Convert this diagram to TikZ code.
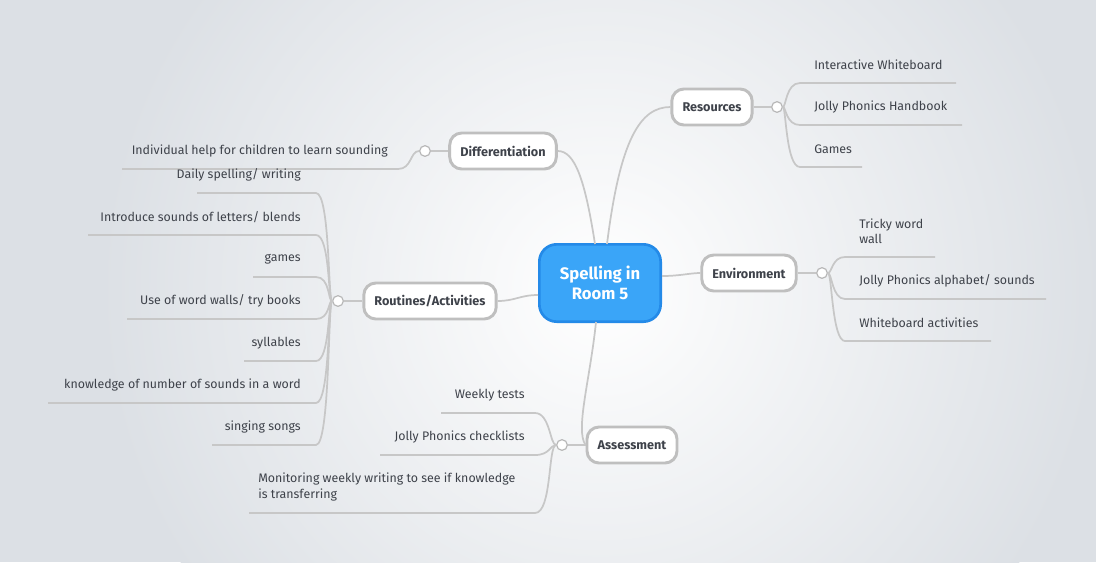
\documentclass[tikz,border=0pt]{standalone}
\usepackage{fontspec}
\setmainfont{Fira Sans}
\definecolor{bgc}{RGB}{220,224,229}
\definecolor{cfill}{RGB}{58,165,248}
\definecolor{cdraw}{RGB}{36,138,232}
\definecolor{tc}{RGB}{62,66,74}
\begin{document}
\begin{tikzpicture}[x=0.75pt,y=-0.75pt,
  conn/.style={draw=black!22,line width=1.3pt},
  branch/.style={draw=black!25,line width=2.2pt,fill=white,rounded corners=9pt,minimum height=27pt,font=\fontsize{9.5}{11}\selectfont\bfseries,text=tc,inner xsep=8pt},
  junc/.style={circle,draw=black!28,line width=0.9pt,fill=white,minimum size=8pt,inner sep=0pt},
  leaf/.style={font=\fontsize{9.3}{11.5}\selectfont,text=tc,inner sep=0pt,align=left}]
\useasboundingbox (0,0) rectangle (1096,562);
\clip (0,0) rectangle (1096,562);
\fill[bgc] (0,0) rectangle (1096,562);
\shade[inner color=white,outer color=bgc,shading=radial] (600,290) circle (500);
% central
\node[draw=cdraw,fill=cfill,line width=2pt,rounded corners=13pt,minimum width=91pt,minimum height=58pt,text=white,font=\fontsize{12.5}{15}\selectfont\bfseries,align=center] (c) at (600,283) {Spelling in\\Room 5};
% branches
\node[branch] (res) at (712,107) {Resources};
\node[branch] (dif) at (503,151) {Differentiation};
\node[branch] (env) at (749,273) {Environment};
\node[branch] (rou) at (430,301) {Routines/Activities};
\node[branch] (ass) at (632,445) {Assessment};
\draw[conn] (607,244) .. controls (620,140) and (640,107) .. (res.west);
\draw[conn] (595,244) .. controls (585,180) and (575,151) .. (dif.east);
\draw[conn] (c.east|-0,276) .. controls (680,276) and (690,273) .. (env.west);
\draw[conn] (c.west|-0,295) .. controls (520,295) and (515,301) .. (rou.east);
\draw[conn] (596,322) .. controls (590,380) and (575,430) .. (ass.west);
% junctions
\node[junc] (jr) at (777,107) {};
\node[junc] (jd) at (425,151) {};
\node[junc] (je) at (822,273) {};
\node[junc] (jo) at (338,301) {};
\node[junc] (ja) at (562,445) {};
\draw[conn] (res.east) -- (jr.west);
\draw[conn] (dif.west) -- (jd.east);
\draw[conn] (env.east) -- (je.west);
\draw[conn] (rou.west) -- (jo.east);
\draw[conn] (ass.west) -- (ja.east);
% resources leaves
\node[leaf,anchor=west] (r1) at (814,65) {Interactive Whiteboard};
\node[leaf,anchor=west] (r2) at (814,107) {Jolly Phonics Handbook};
\node[leaf,anchor=west] (r3) at (814,149) {Games};
\draw[conn] (jr.east) .. controls (786,107) and (786,83) .. (800,83) -- (956,83);
\draw[conn] (jr.east) .. controls (786,107) and (786,125) .. (800,125) -- (962,125);
\draw[conn] (jr.east) .. controls (786,107) and (786,167) .. (800,167) -- (862,167);
% differentiation
\node[leaf,anchor=east] (d1) at (388,151) {Individual help for children to learn sounding};
\draw[conn] (jd.west) .. controls (410,151) and (412,169) .. (398,169) -- (122,169);
% environment
\node[leaf,anchor=west] (e1) at (859,231) {Tricky word\\wall};
\node[leaf,anchor=west] (e2) at (859,281) {Jolly Phonics alphabet/ sounds};
\node[leaf,anchor=west] (e3) at (859,323) {Whiteboard activities};
\draw[conn] (je.east) .. controls (832,273) and (832,257) .. (845,257) -- (935,257);
\draw[conn] (je.east) .. controls (832,273) and (832,299) .. (845,299) -- (1046,299);
\draw[conn] (je.east) .. controls (832,273) and (832,341) .. (845,341) -- (991,341);
% routines
\foreach \t/\y/\x in {{Daily spelling/ writing}/175/197,{Introduce sounds of letters/ blends}/217/88,{games}/259/253,{Use of word walls/ try books}/301/127,{syllables}/343/244,{knowledge of number of sounds in a word}/385/48,{singing songs}/427/212}{
  \node[leaf,anchor=east] at (301,\y) {\t};
  \draw[conn] (jo.west) .. controls (328,301) and (330,\y+18) .. (316,\y+18) -- (\x,\y+18);
}
% assessment
\node[leaf,anchor=east] (a1) at (525,395) {Weekly tests};
\node[leaf,anchor=east] (a2) at (525,437) {Jolly Phonics checklists};
\node[leaf,anchor=west] (a3) at (258,487) {Monitoring weekly writing to see if knowledge\\is transferring};
\draw[conn] (ja.west) .. controls (550,445) and (550,413) .. (535,413) -- (441,413);
\draw[conn] (ja.west) .. controls (550,445) and (550,455) .. (535,455) -- (380,455);
\draw[conn] (ja.west) .. controls (548,445) and (552,513) .. (535,513) -- (249,513);
\end{tikzpicture}
\end{document}
